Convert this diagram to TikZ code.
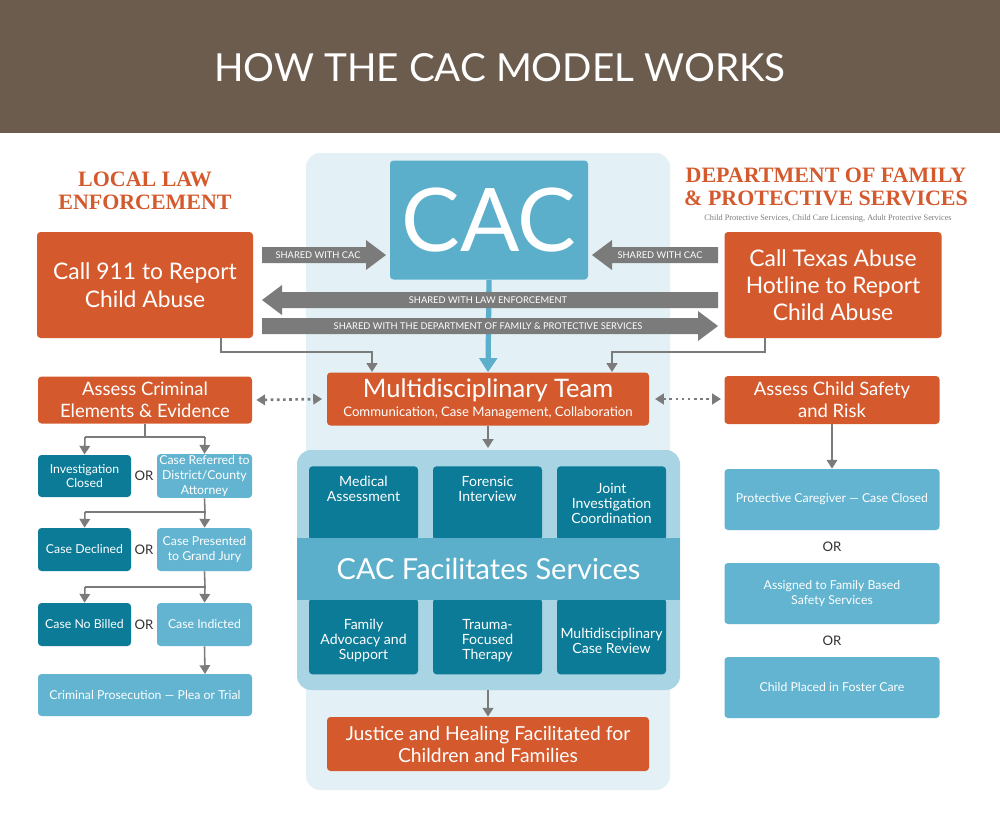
\documentclass[tikz,border=0pt]{standalone}
\usepackage{fontspec}
\setmainfont{Lato}
\newfontfamily\slab{Liberation Serif}
\usetikzlibrary{arrows.meta,positioning}
\definecolor{brown}{HTML}{6B5C4E}
\definecolor{org}{HTML}{D45A2E}
\definecolor{dteal}{HTML}{0C7B97}
\definecolor{lblue}{HTML}{62B4D0}
\definecolor{band}{HTML}{5BAFCB}
\definecolor{pale}{HTML}{E3F1F6}
\definecolor{svc}{HTML}{A9D4E3}
\definecolor{gry}{HTML}{7B7B7B}
\begin{document}
\begin{tikzpicture}[x=0.02cm,y=-0.02cm,
  box/.style={draw=none,rounded corners=2pt,text=white,align=center,inner sep=1pt},
  obox/.style={box,fill=org},
  dbox/.style={box,fill=dteal,font=\fontsize{7}{8.3}\selectfont},
  lbox/.style={box,fill=lblue,font=\fontsize{7}{8.3}\selectfont},
  sbox/.style={box,fill=dteal,font=\fontsize{8}{8.6}\selectfont},
  con/.style={gry,line width=1.3pt,-{Triangle[length=5pt,width=6pt]}},
  thin/.style={gry,line width=0.9pt},
  fat/.style={fill=gry,draw=none},
  lab/.style={text=white,font=\fontsize{5.3}{6}\selectfont},
  hd/.style={text=org,font=\slab\bfseries\fontsize{12.5}{12}\selectfont,align=center}]
\useasboundingbox (0,0) rectangle (1000,812);
\fill[white] (0,0) rectangle (1000,812);
\fill[brown] (0,0) rectangle (1000,133);
\node[text=white,font=\fontsize{22}{22}\selectfont] (title) at (500,68) {HOW THE CAC MODEL WORKS};
\fill[pale,rounded corners=8pt] (306,153) rectangle (670,790);
% headings
\node[hd] (hl) at (145,191) {LOCAL LAW\\[1pt]ENFORCEMENT};
\node[hd] (hr) at (826,187) {DEPARTMENT OF FAMILY\\[1pt]\& PROTECTIVE SERVICES};
\node[text=gry,font=\slab\fontsize{4.7}{5}\selectfont] (hsub) at (828,219) {Child Protective Services, Child Care Licensing, Adult Protective Services};
% top boxes
\node[obox,minimum width=216*0.02cm,minimum height=106*0.02cm,font=\fontsize{13}{16}\selectfont] (l911) at (145,285) {Call 911 to Report\\Child Abuse};
\node[obox,minimum width=217*0.02cm,minimum height=106*0.02cm,font=\fontsize{13}{15.5}\selectfont] (rtx) at (833,285) {Call Texas Abuse\\Hotline to Report\\Child Abuse};
\node[box,fill=band,minimum width=198*0.02cm,minimum height=119*0.02cm,font=\fontsize{50}{50}\selectfont] (cac) at (489,220) {CAC};
% MDT
\node[obox,minimum width=322*0.02cm,minimum height=53*0.02cm] (mdt) at (488,399) {\fontsize{14.5}{16}\selectfont Multidisciplinary Team\\[-1pt]\fontsize{7.5}{8}\selectfont Communication, Case Management, Collaboration};
\draw[band,line width=3pt,-{Triangle[length=8pt,width=10pt]}] (cac.south) -- (mdt.north);
% fat arrows
\fill[fat] (262,247) -- (366,247) -- (366,240) -- (386,255) -- (366,270) -- (366,263) -- (262,263) -- cycle;
\node[lab] (a1) at (318,255) {SHARED WITH CAC};
\fill[fat] (718,247) -- (612,247) -- (612,240) -- (592,255) -- (612,270) -- (612,263) -- (718,263) -- cycle;
\node[lab] (a2) at (660,255) {SHARED WITH CAC};
\fill[fat] (718,292) -- (282,292) -- (282,285) -- (262,300) -- (282,315) -- (282,308) -- (718,308) -- cycle;
\node[lab] (a3) at (488,300) {SHARED WITH LAW ENFORCEMENT};
\fill[fat] (262,318) -- (698,318) -- (698,311) -- (718,326) -- (698,341) -- (698,334) -- (262,334) -- cycle;
\node[lab] (a4) at (488,326) {SHARED WITH THE DEPARTMENT OF FAMILY \& PROTECTIVE SERVICES};
\draw[con] (221,338) -- (221,352) -- (372,352) -- (372,372);
\draw[con] (765,338) -- (765,352) -- (612,352) -- (612,372);
\node[obox,minimum width=214*0.02cm,minimum height=47*0.02cm,font=\fontsize{10.5}{12.5}\selectfont] (acr) at (145,400) {Assess Criminal\\Elements \& Evidence};
\node[obox,minimum width=215*0.02cm,minimum height=48*0.02cm,font=\fontsize{10.5}{12.5}\selectfont] (acs) at (832,400) {Assess Child Safety\\and Risk};
\draw[gry,line width=1.5pt,dotted,{Triangle[length=5pt,width=6pt]}-{Triangle[length=5pt,width=6pt]}] (acr.east)++(4,0) -- (322,399);
\draw[gry,line width=1.5pt,dotted,{Triangle[length=5pt,width=6pt]}-{Triangle[length=5pt,width=6pt]}] (655,399) -- (721,399);
% services
\fill[svc,rounded corners=8pt] (297,450) rectangle (680,690);
\draw[con] (mdt.south) -- (488,448);
\node[sbox,minimum width=109*0.02cm,minimum height=74*0.02cm,anchor=north] (s1) at (363.5,466) {Medical\\Assessment\\[8pt]};
\node[sbox,minimum width=109*0.02cm,minimum height=74*0.02cm,anchor=north] (s2) at (487.5,466) {Forensic\\Interview\\[8pt]};
\node[sbox,minimum width=109*0.02cm,minimum height=74*0.02cm,anchor=north] (s3) at (611.5,466) {Joint\\Investigation\\Coordination};
\node[sbox,minimum width=109*0.02cm,minimum height=76*0.02cm,anchor=north] (s4) at (363.5,598) {\\[2pt]Family\\Advocacy and\\Support};
\node[sbox,minimum width=109*0.02cm,minimum height=76*0.02cm,anchor=north] (s5) at (487.5,598) {\\[2pt]Trauma-\\Focused\\Therapy};
\node[sbox,minimum width=109*0.02cm,minimum height=76*0.02cm,anchor=north] (s6) at (611.5,598) {\\[2pt]Multidisciplinary\\Case Review};
\node[box,fill=band,rounded corners=0pt,minimum width=383*0.02cm,minimum height=62*0.02cm,font=\fontsize{16.5}{17}\selectfont] (cfs) at (488.5,569) {CAC Facilitates Services};
\node[obox,minimum width=322*0.02cm,minimum height=54*0.02cm,font=\fontsize{11}{12.5}\selectfont] (jh) at (488,744) {Justice and Healing Facilitated for\\Children and Families};
\draw[con] (488,690) -- (jh.north);
% left column
\node[dbox,minimum width=93*0.02cm,minimum height=42*0.02cm] (ic) at (84.5,476) {Investigation\\Closed};
\node[lbox,minimum width=95*0.02cm,minimum height=42*0.02cm] (cr) at (204.5,476) {Case Referred to\\District/County\\Attorney};
\node[dbox,minimum width=93*0.02cm,minimum height=43*0.02cm] (cd) at (84.5,549.5) {Case Declined};
\node[lbox,minimum width=95*0.02cm,minimum height=43*0.02cm] (cp) at (204.5,549.5) {Case Presented\\to Grand Jury};
\node[dbox,minimum width=93*0.02cm,minimum height=43*0.02cm] (nb) at (84.5,624.5) {Case No Billed};
\node[lbox,minimum width=95*0.02cm,minimum height=43*0.02cm] (ci) at (204.5,624.5) {Case Indicted};
\node[lbox,minimum width=214*0.02cm,minimum height=42*0.02cm] (pt) at (145,695) {Criminal Prosecution — Plea or Trial};
\foreach \y/\n in {476/o1,549.5/o2,624.5/o3}{\node[text=black!80,font=\fontsize{7.5}{8}\selectfont] (\n) at (144,\y) {OR};}
\draw[thin] (acr.south) -- (145,437);
\draw[thin] (85,437) -- (205,437);
\draw[con,line width=0.9pt] (85,437) -- (ic.north);
\draw[con,line width=0.9pt] (205,437) -- (cr.north);
\draw[thin] (cr.south) -- (205,512);
\draw[thin] (85,512) -- (205,512);
\draw[con,line width=0.9pt] (85,512) -- (cd.north);
\draw[con,line width=0.9pt] (205,512) -- (cp.north);
\draw[thin] (cp.south) -- (205,587);
\draw[thin] (85,587) -- (205,587);
\draw[con,line width=0.9pt] (85,587) -- (nb.north);
\draw[con,line width=0.9pt] (205,587) -- (ci.north);
\draw[con,line width=0.9pt] (ci.south) -- (205,674);
% right column
\node[lbox,minimum width=215*0.02cm,minimum height=61*0.02cm] (pc) at (832,499.5) {Protective Caregiver — Case Closed};
\node[lbox,minimum width=215*0.02cm,minimum height=61*0.02cm] (fb) at (832,593.5) {Assigned to Family Based\\Safety Services};
\node[lbox,minimum width=215*0.02cm,minimum height=61*0.02cm] (fc) at (832,687.5) {Child Placed in Foster Care};
\node[text=black!80,font=\fontsize{7.5}{8}\selectfont] (o4) at (832,547) {OR};
\node[text=black!80,font=\fontsize{7.5}{8}\selectfont] (o5) at (832,641) {OR};
\draw[con,line width=0.9pt] (acs.south) -- (pc.north);
\end{tikzpicture}
\end{document}
